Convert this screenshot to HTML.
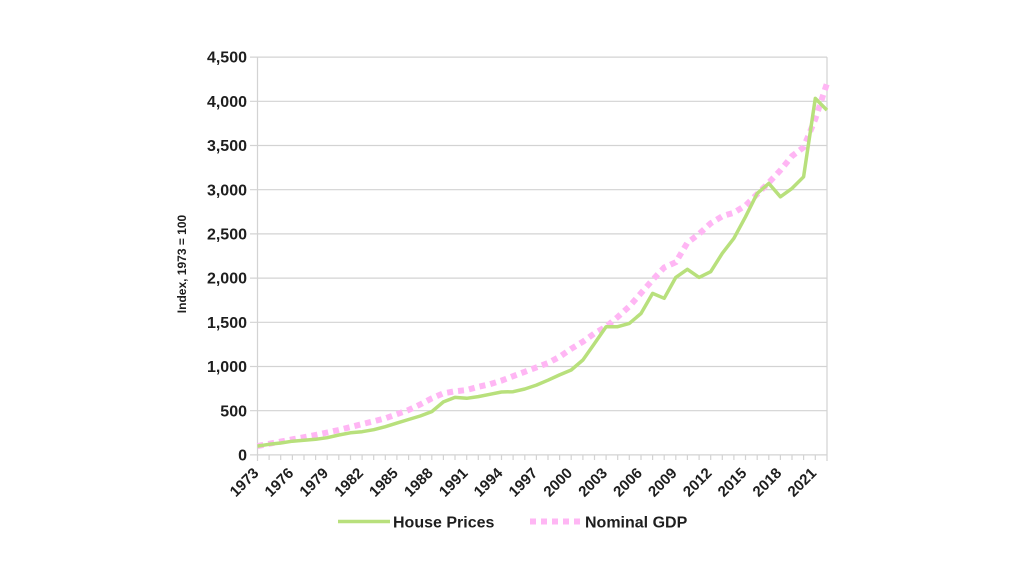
<!DOCTYPE html>
<html>
<head>
<meta charset="utf-8">
<style>
html,body{margin:0;padding:0;background:#fff;}
svg{display:block;}
text{font-family:"Liberation Sans",Arial,sans-serif;font-weight:bold;fill:#1e1e1e;}
</style>
</head>
<body>
<svg width="1024" height="576" viewBox="0 0 1024 576" xmlns="http://www.w3.org/2000/svg">
<rect width="1024" height="576" fill="#fff"/>
<!-- grid -->
<g stroke="#d3d3d3" stroke-width="1.2">
<line x1="250" y1="57.1" x2="827" y2="57.1"/>
<line x1="250" y1="101.3" x2="827" y2="101.3"/>
<line x1="250" y1="145.5" x2="827" y2="145.5"/>
<line x1="250" y1="189.7" x2="827" y2="189.7"/>
<line x1="250" y1="233.9" x2="827" y2="233.9"/>
<line x1="250" y1="278.1" x2="827" y2="278.1"/>
<line x1="250" y1="322.3" x2="827" y2="322.3"/>
<line x1="250" y1="366.5" x2="827" y2="366.5"/>
<line x1="250" y1="410.7" x2="827" y2="410.7"/>
<line x1="250" y1="454.9" x2="827" y2="454.9"/>
<line x1="257.5" y1="57.1" x2="257.5" y2="461"/>
<line x1="827" y1="57.1" x2="827" y2="461"/>
</g>
<!-- x ticks -->
<g stroke="#d3d3d3" stroke-width="1.2">
<path d="M269.1 455v5M280.7 455v5M292.4 455v5M304.0 455v5M315.6 455v5M327.2 455v5M338.8 455v5M350.5 455v5M362.1 455v5M373.7 455v5M385.3 455v5M396.9 455v5M408.6 455v5M420.2 455v5M431.8 455v5M443.4 455v5M455.0 455v5M466.7 455v5M478.3 455v5M489.9 455v5M501.5 455v5M513.1 455v5M524.8 455v5M536.4 455v5M548.0 455v5M559.6 455v5M571.2 455v5M582.9 455v5M594.5 455v5M606.1 455v5M617.7 455v5M629.3 455v5M641.0 455v5M652.6 455v5M664.2 455v5M675.8 455v5M687.4 455v5M699.1 455v5M710.7 455v5M722.3 455v5M733.9 455v5M745.5 455v5M757.2 455v5M768.8 455v5M780.4 455v5M792.0 455v5M803.6 455v5M815.3 455v5"/>
</g>
<!-- y labels -->
<g font-size="16" text-anchor="end">
<text x="247" y="62.7">4,500</text>
<text x="247" y="106.9">4,000</text>
<text x="247" y="151.1">3,500</text>
<text x="247" y="195.3">3,000</text>
<text x="247" y="239.5">2,500</text>
<text x="247" y="283.7">2,000</text>
<text x="247" y="327.9">1,500</text>
<text x="247" y="372.1">1,000</text>
<text x="247" y="416.3">500</text>
<text x="247" y="460.5">0</text>
</g>
<!-- y title -->
<text font-size="12" text-anchor="middle" transform="translate(186,264) rotate(-90)">Index, 1973 = 100</text>
<!-- x labels -->
<g font-size="15" text-anchor="end">
<text transform="translate(259.5,474) rotate(-45)">1973</text>
<text transform="translate(294.4,474) rotate(-45)">1976</text>
<text transform="translate(329.2,474) rotate(-45)">1979</text>
<text transform="translate(364.1,474) rotate(-45)">1982</text>
<text transform="translate(398.9,474) rotate(-45)">1985</text>
<text transform="translate(433.8,474) rotate(-45)">1988</text>
<text transform="translate(468.7,474) rotate(-45)">1991</text>
<text transform="translate(503.5,474) rotate(-45)">1994</text>
<text transform="translate(538.4,474) rotate(-45)">1997</text>
<text transform="translate(573.2,474) rotate(-45)">2000</text>
<text transform="translate(608.1,474) rotate(-45)">2003</text>
<text transform="translate(643.0,474) rotate(-45)">2006</text>
<text transform="translate(677.8,474) rotate(-45)">2009</text>
<text transform="translate(712.7,474) rotate(-45)">2012</text>
<text transform="translate(747.5,474) rotate(-45)">2015</text>
<text transform="translate(782.4,474) rotate(-45)">2018</text>
<text transform="translate(817.3,474) rotate(-45)">2021</text>
</g>
<!-- GDP -->
<polyline fill="none" stroke="#ffb6f4" stroke-width="6" stroke-dasharray="6 5" points="257.5,446.1 269.1,443.8 280.7,441.6 292.4,439.3 304.0,437.2 315.6,435.0 327.2,432.5 338.8,430.0 350.5,427.1 362.1,424.1 373.7,421.3 385.3,418.3 396.9,414.2 408.6,410.0 420.2,404.5 431.8,398.3 443.4,393.3 455.0,391.3 466.7,390.0 478.3,386.8 489.9,384.2 501.5,380.6 513.1,376.2 524.8,371.8 536.4,367.4 548.0,363.0 559.6,356.8 571.2,348.8 582.9,341.7 594.5,333.3 606.1,326.7 617.7,317.0 629.3,306.4 641.0,293.1 652.6,279.9 664.2,267.5 675.8,262.2 687.4,242.7 699.1,233.9 710.7,223.3 722.3,216.2 733.9,212.7 745.5,205.6 757.2,194.1 768.8,182.6 780.4,170.3 792.0,156.1 803.6,147.3 815.3,119.0 826.9,83.6"/>
<!-- House -->
<polyline fill="none" stroke="#b8e07c" stroke-width="3.5" stroke-linejoin="round" points="257.5,446.1 269.1,444.3 280.7,443.0 292.4,441.2 304.0,440.3 315.6,439.3 327.2,437.7 338.8,435.0 350.5,432.8 362.1,431.7 373.7,429.7 385.3,426.7 396.9,423.1 408.6,419.5 420.2,416.0 431.8,411.6 443.4,401.9 455.0,397.4 466.7,398.3 478.3,396.6 489.9,394.3 501.5,392.0 513.1,391.7 524.8,389.0 536.4,385.1 548.0,380.2 559.6,374.9 571.2,370.0 582.9,360.0 594.5,343.5 606.1,326.7 617.7,326.7 629.3,323.4 641.0,313.5 652.6,293.4 664.2,298.3 675.8,277.4 687.4,269.3 699.1,277.4 710.7,271.7 722.3,253.3 733.9,238.3 745.5,216.8 757.2,193.4 768.8,183.4 780.4,196.8 792.0,188.4 803.6,176.8 815.3,98.4 826.9,110.1"/>
<!-- legend -->
<line x1="338" y1="521.5" x2="390" y2="521.5" stroke="#b8e07c" stroke-width="3.5"/>
<text x="393" y="527.5" font-size="16">House Prices</text>
<line x1="530" y1="521.5" x2="582" y2="521.5" stroke="#ffb6f4" stroke-width="6" stroke-dasharray="6 5"/>
<text x="585" y="527.5" font-size="16">Nominal GDP</text>
</svg>
</body>
</html>
